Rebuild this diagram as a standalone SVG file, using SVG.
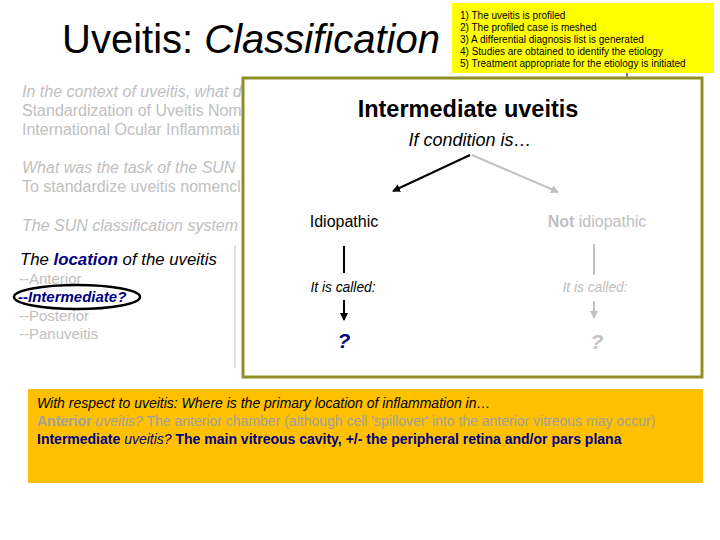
<svg xmlns="http://www.w3.org/2000/svg" width="720" height="540" viewBox="0 0 720 540">
<defs>
<style>
text{font-family:"Liberation Sans",Arial,sans-serif}
.g{fill:#c0c0c0}
.it{font-style:italic}
.b{font-weight:bold}
.nv{fill:#000080}
</style>
<marker id="ab" markerWidth="8" markerHeight="8" refX="7" refY="4" orient="auto" markerUnits="userSpaceOnUse"><path d="M0,0 L8,4 L0,8 z" fill="#000"/></marker>
<marker id="ag" markerWidth="8" markerHeight="8" refX="7" refY="4" orient="auto" markerUnits="userSpaceOnUse"><path d="M0,0 L8,4 L0,8 z" fill="#c0c0c0"/></marker>
</defs>
<rect width="720" height="540" fill="#fff"/>
<g id="title"><text x="62" y="53" font-size="40">Uveitis: <tspan class="it">Classification</tspan></text></g>
<g id="steps">
<rect x="452" y="3" width="262" height="70" fill="#ffff00"/>
<text x="460" y="19" font-size="10">1) The uveitis is profiled</text>
<text x="460" y="31" font-size="10">2) The profiled case is meshed</text>
<text x="460" y="43" font-size="10">3) A differential diagnosis list is generated</text>
<text x="460" y="55" font-size="10">4) Studies are obtained to identify the etiology</text>
<text x="460" y="67" font-size="10">5) Treatment appropriate for the etiology is initiated</text>
<line x1="627" y1="73" x2="627" y2="78" stroke="#000" stroke-width="1"/>
</g>
<g id="left-text" font-size="16">
<text x="22" y="97" class="g it">In the context of uveitis, what d</text>
<text x="22" y="116" class="g">Standardization of Uveitis Nom</text>
<text x="22" y="135" class="g">International Ocular Inflammati</text>
<text x="22" y="173" class="g it">What was the task of the SUN</text>
<text x="22" y="192" class="g">To standardize uveitis nomencl</text>
<text x="22" y="231" class="g it">The SUN classification system</text>
</g>
<g id="location">
<text x="20" y="265" font-size="16.8" class="it">The <tspan class="b nv">location</tspan> of the uveitis</text>
<text x="19" y="284" font-size="15" class="g">--Anterior</text>
<text x="19" y="321" font-size="15" class="g">--Posterior</text>
<text x="19" y="339" font-size="15" class="g">--Panuveitis</text>
<ellipse cx="77" cy="297" rx="63" ry="12" fill="#fff" stroke="#000" stroke-width="2.5"/>
<text x="18" y="302" font-size="15" class="b it nv">--Intermediate?</text>
<line x1="235" y1="245" x2="235" y2="368" stroke="#c0c0c0" stroke-width="1"/>
</g>
<g id="panel">
<rect x="243" y="78" width="459" height="299" fill="#fff" stroke="#8f8f26" stroke-width="3"/>
<text x="468" y="117" font-size="23.5" class="b" text-anchor="middle">Intermediate uveitis</text>
<text x="470" y="146" font-size="18" class="it" text-anchor="middle">If condition is…</text>
</g>
<g id="idiopathic">
<text x="344" y="227" font-size="16" text-anchor="middle">Idiopathic</text>
<text x="343" y="292" font-size="13.8" class="it" text-anchor="middle">It is called:</text>
<text x="344" y="348" font-size="21" class="b it nv" text-anchor="middle">?</text>
</g>
<g id="not-idiopathic">
<text x="597" y="227" font-size="16" class="g" text-anchor="middle"><tspan class="b">Not</tspan> idiopathic</text>
<text x="595" y="292" font-size="13.8" class="g it" text-anchor="middle">It is called:</text>
<text x="597" y="349" font-size="21" class="g b it" text-anchor="middle">?</text>
</g>
<g id="connectors">
<line x1="470" y1="155" x2="393" y2="191" stroke="#000" stroke-width="2" marker-end="url(#ab)"/>
<line x1="472" y1="155" x2="558" y2="192" stroke="#c0c0c0" stroke-width="2" marker-end="url(#ag)"/>
<line x1="344" y1="246" x2="344" y2="273" stroke="#000" stroke-width="2"/>
<line x1="594" y1="244" x2="594" y2="275" stroke="#c0c0c0" stroke-width="2"/>
<line x1="344" y1="300" x2="344" y2="320" stroke="#000" stroke-width="2" marker-end="url(#ab)"/>
<line x1="594" y1="301" x2="594" y2="318" stroke="#c0c0c0" stroke-width="2" marker-end="url(#ag)"/>
</g>
<g id="answer">
<rect x="28" y="389" width="675" height="94" fill="#ffc000"/>
<text x="37" y="408" font-size="14" class="it">With respect to uveitis: Where is the primary location of inflammation in…</text>
<text x="37" y="426" font-size="14" fill="#a0a0a0"><tspan class="b">Anterior</tspan><tspan class="it"> uveitis?</tspan> The anterior chamber (although cell 'spillover' into the anterior vitreous may occur)</text>
<text x="37" y="444" font-size="14" class="b nv">Intermediate<tspan font-weight="normal" class="it"> uveitis?</tspan> The main vitreous cavity, +/- the peripheral retina and/or pars plana</text>
</g>
</svg>
